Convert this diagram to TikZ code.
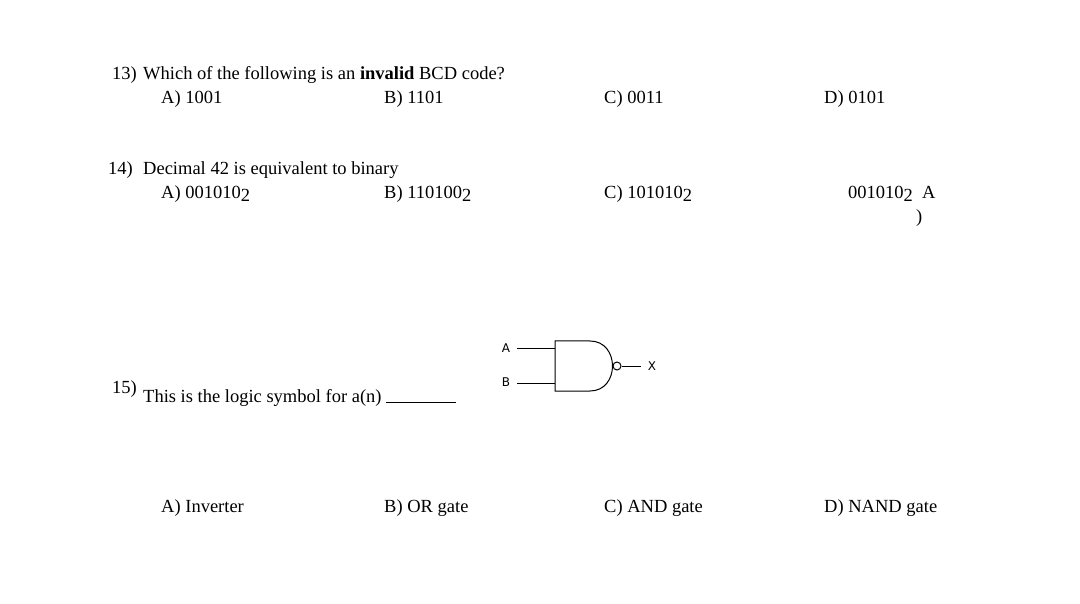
\documentclass[tikz,border=0pt]{standalone}
\usepackage{fontspec}
\setmainfont{Liberation Serif}
\setsansfont{DejaVu Sans}
\begin{document}
\begin{tikzpicture}[x=1pt,y=-1pt,
  t/.style={anchor=base west,inner sep=0pt,font=\fontsize{18.5}{21}\selectfont},
  g/.style={inner sep=0pt,font=\sffamily\fontsize{12}{14}\selectfont},
  w/.style={line width=1pt}]
\useasboundingbox (0,0) rectangle (1080,604);
\node[t] (n13) at (112,80) {13)};
\node[t] (q13) at (143,80) {Which of the following is an \textbf{invalid} BCD code?};
\node[t] (a13) at (161,104) {A) 1001};
\node[t] (b13) at (384,104) {B) 1101};
\node[t] (c13) at (604,104) {C) 0011};
\node[t] (d13) at (824,104) {D) 0101};
\node[t] (n14) at (108,175) {14)};
\node[t] (q14) at (143,175) {Decimal 42 is equivalent to binary};
\node[t] (a14) at (161,199) {A) 001010\raisebox{-0.3ex}{2}};
\node[t] (b14) at (384,199) {B) 110100\raisebox{-0.3ex}{2}};
\node[t] (c14) at (604,199) {C) 101010\raisebox{-0.3ex}{2}};
\node[t] (d14) at (848,199) {001010\raisebox{-0.3ex}{2}\ \ A};
\node[t] (d14b) at (916,223) {)};
\node[t] (n15) at (112,393) {15)};
\node[t] (q15) at (143,402) {This is the logic symbol for a(n) \rule[-1pt]{70pt}{0.6pt}};
\node[t] (a15) at (161,512) {A) Inverter};
\node[t] (b15) at (384,512) {B) OR gate};
\node[t] (c15) at (604,512) {C) AND gate};
\node[t] (d15) at (824,512) {D) NAND gate};
% gate
\node[g] (A) at (506,348) {A};
\node[g] (B) at (506,382) {B};
\node[g] (X) at (652,366) {X};
\coordinate (ia) at (555,349);
\coordinate (ib) at (555,383);
\draw[w] (555,341) -- (590,341) .. controls (620,341) and (620,391) .. (590,391) -- (555,391) -- cycle;
\node[draw,circle,w,minimum size=8pt,inner sep=0pt] (bub) at (617,366) {};
\draw[w] (517,349) -- (ia);
\draw[w] (517,383) -- (ib);
\draw[w] (bub.east) -- (641,366);
\end{tikzpicture}
\end{document}
